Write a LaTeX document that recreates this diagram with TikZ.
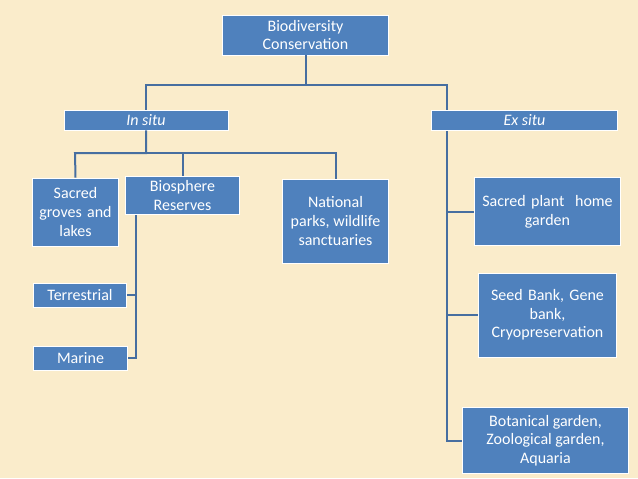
\documentclass[tikz,border=0pt]{standalone}
\usepackage{fontspec}
\setmainfont{Carlito}
\definecolor{boxblue}{RGB}{79,129,189}
\definecolor{lineblue}{RGB}{70,110,160}
\definecolor{paper}{RGB}{250,236,203}
\begin{document}
\begin{tikzpicture}[x=0.75pt, y=-0.75pt, thick]
    \tikzstyle{box}=[draw=white, line width=0.6pt, fill=boxblue, text=white, align=center,
        inner sep=1pt, font=\fontsize{12}{14}\selectfont]
    \tikzstyle{link}=[draw=lineblue, line width=1.5pt]
    \fill[paper] (0,0) rectangle (638,478);
    \useasboundingbox (0,0) rectangle (638,478);

    \node[box, minimum width=125pt, minimum height=30pt] (bio) at (305.5,35) {Biodiversity\\Conservation};
    \node[box, minimum width=123pt, minimum height=15pt, font=\fontsize{12}{14}\selectfont\itshape] (insitu) at (146,120) {In situ};
    \node[box, minimum width=140pt, minimum height=15pt, font=\fontsize{12}{14}\selectfont\itshape] (exsitu) at (524.5,120.5) {Ex situ};

    \node[box, minimum width=64pt, minimum height=51pt, text width=62pt] (groves) at (75.5,212) {Sacred\\groves and\\lakes};
    \node[box, minimum width=86pt, minimum height=28pt] (bios) at (182.5,195.5) {Biosphere\\Reserves};
    \node[box, minimum width=79pt, minimum height=63pt] (parks) at (335.5,221) {National\\parks, wildlife\\sanctuaries};
    \node[box, minimum width=70pt, minimum height=18pt] (terr) at (80,295) {Terrestrial};
    \node[box, minimum width=71pt, minimum height=18pt] (marine) at (80.5,358) {Marine};

    \node[box, minimum width=110pt, minimum height=51pt, text width=108pt] (plant) at (547.5,211.5) {Sacred plant\ \ home\\garden\\[12pt]};
    \node[box, minimum width=103pt, minimum height=63pt, text width=101pt] (seed) at (547.5,315) {Seed Bank, Gene\\bank,\\Cryopreservation};
    \node[box, minimum width=124pt, minimum height=49pt] (bot) at (545.5,440.5) {Botanical garden,\\Zoological garden,\\Aquaria};

    \coordinate (exline) at (447,131);
    \draw[link] (bio.south) |- (146,85) -| (insitu.north);
    \draw[link] (146,85) -| (exline |- exsitu.north);
    \draw[link] (insitu.south) |- (75,153) -- (groves.north);
    \draw[link] (146,153) -| (bios.north);
    \draw[link] (146,153) -| (parks.north);
    \draw[link] (exline) |- (bot.west);
    \draw[link] (exline |- plant.west) -- (plant.west);
    \draw[link] (exline |- seed.west) -- (seed.west);
    \draw[link] (136,215) |- (marine.east);
    \draw[link] (136,295) -- (terr.east);
\end{tikzpicture}
\end{document}
